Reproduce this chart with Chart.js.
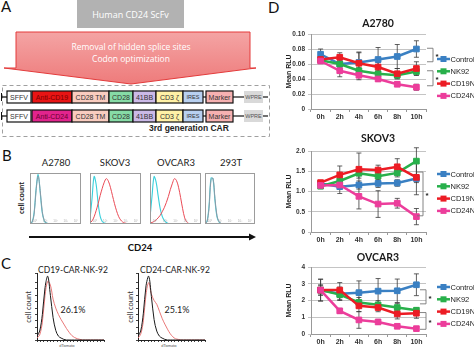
<!DOCTYPE html>
<html><head><meta charset="utf-8">
<script src="https://cdn.jsdelivr.net/npm/chart.js@4.4.1/dist/chart.umd.min.js"></script>
<style>
html,body{margin:0;padding:0;background:#fff;width:474px;height:361px;overflow:hidden;position:relative;font-family:'Liberation Sans',Arial,sans-serif}
canvas{position:absolute}
svg{position:absolute;left:0;top:0}
</style></head><body>
<svg width="474" height="361" xmlns="http://www.w3.org/2000/svg">
  <defs><linearGradient id="g1" x1="0" y1="0" x2="0" y2="1"><stop offset="0" stop-color="#f4a4a4"/><stop offset="1" stop-color="#ee7b7b"/></linearGradient></defs>
  <text x="1" y="12" font-family="Lato" font-size="15" fill="#111">A</text>
  <text x="2" y="161" font-family="Lato" font-size="15" fill="#111">B</text>
  <text x="1" y="269" font-family="Lato" font-size="15" fill="#111">C</text>
  <text x="268" y="13" font-family="Lato" font-size="15" fill="#111">D</text>
  <rect x="77" y="0" width="107" height="28" fill="#b2b2b2"/>
  <text x="130.5" y="17.5" text-anchor="middle" fill="#fff" font-family="Open Sans" font-size="9">Human CD24 ScFv</text>
  <polygon points="16,32 250,32 250,68 256,68 131,84 4,68 16,68" fill="url(#g1)" stroke="#e43b3b" stroke-width="1"/>
  <text x="131" y="50" text-anchor="middle" fill="#fff" font-family="Open Sans" font-size="8.5">Removal of hidden splice sites</text>
  <text x="131" y="62" text-anchor="middle" fill="#fff" font-family="Open Sans" font-size="8.5">Codon optimization</text>
  <rect x="2.5" y="85.5" width="267" height="51" fill="none" stroke="#a0a0a0" stroke-dasharray="4 3"/>
  <g font-family="Liberation Sans" font-size="7" text-anchor="middle" fill="#333">
    <line x1="1" y1="97" x2="7" y2="97" stroke="#111" stroke-width="1.3"/><line x1="1.5" y1="93" x2="1.5" y2="101" stroke="#111" stroke-width="1"/>
    <rect x="7" y="91" width="24" height="12" fill="#fff" stroke="#111" stroke-width="1.2"/><text x="19" y="99.5">SFFV</text>
    <rect x="32" y="91" width="40" height="12" fill="#e81414" stroke="#111" stroke-width="1.2"/><text x="52" y="99.5" fill="#7a0000">Anti-CD19</text>
    <rect x="72" y="91" width="37" height="12" fill="#f9ccbf" stroke="#111" stroke-width="1.2"/><text x="90.5" y="99.5">CD28 TM</text>
    <rect x="109" y="91" width="24" height="12" fill="#86dba6" stroke="#111" stroke-width="1.2"/><text x="121" y="99.5">CD28</text>
    <rect x="133" y="91" width="23" height="12" fill="#cbb9e7" stroke="#111" stroke-width="1.2"/><text x="144.5" y="99.5">41BB</text>
    <rect x="156" y="91" width="27" height="12" fill="#fff1a6" stroke="#111" stroke-width="1.2"/><text x="169.5" y="99.5">CD3 ζ</text>
    <rect x="183" y="91" width="20" height="12" fill="#b8d0f0" stroke="#111" stroke-width="1.2"/><text x="193" y="99" font-size="5.5">IRES</text>
    <line x1="203" y1="97" x2="206" y2="97" stroke="#111" stroke-width="1.2"/>
    <rect x="206" y="91" width="27" height="12" fill="#f6b1b1" stroke="#111" stroke-width="1.2"/><text x="219.5" y="99.5">Marker</text>
    <line x1="233" y1="97" x2="244" y2="97" stroke="#111" stroke-width="1.2"/>
    <rect x="244" y="91" width="19" height="12" fill="#d9d9d9"/><text x="253.5" y="99" font-size="5.5" fill="#555">WPRE</text>
    <line x1="263" y1="97" x2="268" y2="97" stroke="#111" stroke-width="1.2"/>
  </g>
  <g font-family="Liberation Sans" font-size="7" text-anchor="middle" fill="#333">
    <line x1="1" y1="116" x2="7" y2="116" stroke="#111" stroke-width="1.3"/><line x1="1.5" y1="112" x2="1.5" y2="120" stroke="#111" stroke-width="1"/>
    <rect x="7" y="110" width="24" height="12" fill="#fff" stroke="#111" stroke-width="1.2"/><text x="19" y="118.5">SFFV</text>
    <rect x="32" y="110" width="40" height="12" fill="#e2248d" stroke="#111" stroke-width="1.2"/><text x="52" y="118.5" fill="#6a0030">Anti-CD24</text>
    <rect x="72" y="110" width="37" height="12" fill="#f9ccbf" stroke="#111" stroke-width="1.2"/><text x="90.5" y="118.5">CD28 TM</text>
    <rect x="109" y="110" width="24" height="12" fill="#86dba6" stroke="#111" stroke-width="1.2"/><text x="121" y="118.5">CD28</text>
    <rect x="133" y="110" width="23" height="12" fill="#cbb9e7" stroke="#111" stroke-width="1.2"/><text x="144.5" y="118.5">41BB</text>
    <rect x="156" y="110" width="27" height="12" fill="#fff1a6" stroke="#111" stroke-width="1.2"/><text x="169.5" y="118.5">CD3 ζ</text>
    <rect x="183" y="110" width="20" height="12" fill="#b8d0f0" stroke="#111" stroke-width="1.2"/><text x="193" y="118" font-size="5.5">IRES</text>
    <line x1="203" y1="116" x2="206" y2="116" stroke="#111" stroke-width="1.2"/>
    <rect x="206" y="110" width="27" height="12" fill="#f6b1b1" stroke="#111" stroke-width="1.2"/><text x="219.5" y="118.5">Marker</text>
    <line x1="233" y1="116" x2="244" y2="116" stroke="#111" stroke-width="1.2"/>
    <rect x="244" y="110" width="19" height="12" fill="#d9d9d9"/><text x="253.5" y="118" font-size="5.5" fill="#555">WPRE</text>
    <line x1="263" y1="116" x2="268" y2="116" stroke="#111" stroke-width="1.2"/>
  </g>
  <text x="189" y="131" text-anchor="middle" font-family="Liberation Sans" font-weight="bold" font-size="8.5" fill="#222">3rd generation CAR</text>
  <g font-family="Lato" font-size="9.5" fill="#222" text-anchor="middle">
    <text x="56" y="166">A2780</text><text x="115" y="166">SKOV3</text><text x="176" y="166">OVCAR3</text><text x="231" y="166">293T</text>
  </g>
  <text transform="translate(23.5,198) rotate(-90)" text-anchor="middle" font-family="Lato" font-weight="bold" font-size="7.5" fill="#222">cell count</text>
  <line x1="29" y1="237" x2="250" y2="237" stroke="#111" stroke-width="2"/>
  <polygon points="249,233.5 256,237 249,240.5" fill="#111"/>
  <text x="140" y="251" text-anchor="middle" font-family="Lato" font-weight="bold" font-size="9.5" fill="#111">CD24</text>
  <g font-family="Lato" font-size="8.5" fill="#222">
    <text x="38" y="273">CD19-CAR-NK-92</text><text x="140" y="273">CD24-CAR-NK-92</text>
  </g>
  <g font-family="Lato" font-size="9" fill="#222" text-anchor="middle">
    <text x="73" y="313">26.1%</text><text x="177" y="313">25.1%</text>
  </g>
  <text transform="translate(30.5,307) rotate(-90)" text-anchor="middle" font-family="Lato" font-size="7.5" fill="#333">cell count</text>
  <text transform="translate(132.5,307) rotate(-90)" text-anchor="middle" font-family="Lato" font-size="7.5" fill="#333">cell count</text>
  <text x="67" y="347" text-anchor="middle" font-family="Lato" font-size="4" fill="#555">dTomato</text>
  <text x="169" y="347" text-anchor="middle" font-family="Lato" font-size="4" fill="#555">dTomato</text>
</svg>

<canvas id="bA" width="53" height="53" style="left:29px;top:172px"></canvas>
<canvas id="bS" width="53" height="53" style="left:89px;top:172px"></canvas>
<canvas id="bO" width="53" height="53" style="left:149px;top:172px"></canvas>
<canvas id="bT" width="52" height="53" style="left:204px;top:172px"></canvas>
<canvas id="c1" width="72" height="74" style="left:34px;top:270px"></canvas>
<canvas id="c2" width="72" height="74" style="left:135px;top:270px"></canvas>
<canvas id="dA" width="194" height="107" style="left:280px;top:16px"></canvas>
<canvas id="dS" width="194" height="118" style="left:280px;top:128px"></canvas>
<canvas id="dO" width="194" height="102" style="left:280px;top:246px"></canvas>

<script>
// ---------- Panel D data ----------
const hours = ['0h','2h','4h','6h','8h','10h'];
const seriesNames = ['Control','NK92','CD19NK','CD24NK'];
const seriesColors = ['#3a80c3','#28b04b','#ec1c24','#ec3d9b'];

const a2780Control = [0.073,0.060,0.062,0.066,0.070,0.080];
const a2780NK92    = [0.065,0.060,0.051,0.047,0.045,0.050];
const a2780CD19NK  = [0.066,0.069,0.061,0.056,0.047,0.054];
const a2780CD24NK  = [0.064,0.051,0.045,0.040,0.033,0.029];
const a2780ControlErr = [0.007,0.004,0.014,0.016,0.016,0.011];
const a2780NK92Err    = [0.003,0.004,0.004,0.004,0.004,0.005];
const a2780CD19NKErr  = [0.003,0.006,0.014,0.006,0.007,0.009];
const a2780CD24NKErr  = [0.003,0.008,0.006,0.003,0.003,0.004];
const a2780Ticks = [0,0.02,0.04,0.06,0.08,0.1];

const skov3Control = [1.20,1.12,1.16,1.20,1.21,1.32];
const skov3NK92    = [1.13,1.26,1.45,1.38,1.46,1.75];
const skov3CD19NK  = [1.22,1.41,1.55,1.53,1.61,1.35];
const skov3CD24NK  = [1.15,1.16,0.88,0.69,0.71,0.38];
const skov3ControlErr = [0.06,0.17,0.10,0.10,0.08,0.10];
const skov3NK92Err    = [0.05,0.10,0.12,0.10,0.10,0.33];
const skov3CD19NKErr  = [0.05,0.22,0.40,0.12,0.20,0.43];
const skov3CD24NKErr  = [0.05,0.10,0.31,0.33,0.12,0.20];
const skov3Ticks = [0,0.5,1,1.5,2];

const ovcar3Control = [2.62,2.40,2.47,2.56,2.58,2.94];
const ovcar3NK92    = [2.62,2.35,1.88,1.74,1.58,1.42];
const ovcar3CD19NK  = [2.62,2.62,1.68,1.58,1.20,1.24];
const ovcar3CD24NK  = [2.62,1.38,0.84,0.72,0.46,0.32];
const ovcar3ControlErr = [0.65,0.40,0.70,0.75,0.70,0.65];
const ovcar3NK92Err    = [0.30,0.30,0.30,0.25,0.25,0.15];
const ovcar3CD19NKErr  = [0.30,0.45,0.35,0.25,0.30,0.30];
const ovcar3CD24NKErr  = [0.65,0.15,0.50,0.15,0.10,0.10];
const ovcar3Ticks = [0,1,2,3,4];

// significance brackets [from, to] in data units
const a2780Brackets = [[0.081,0.063],[0.051,0.031]];
const skov3Brackets = [[1.48,0.40]];
const ovcar3Brackets = [[2.64,1.80],[1.28,0.28]];

// ---------- Panel B / C histogram data ----------
const histX = [0,4,8,12,16,20,24,28,32,36,40,44,48,52,56,60,64,68,72,76,80,84,88,92,96,100];
const bA2780Iso  = [1,4,22,70,97,62,22,6,2,1,1,1,1,1,1,1,1,1,1,1,1,1,1,1,1,1];
const bA2780CD24 = [1,3,18,66,94,66,25,7,2,1,1,1,1,1,1,1,1,1,1,1,1,1,1,1,1,1];
const bSkov3Iso  = [10,50,93,78,40,15,5,2,1,0,0,0,0,0,0,0,0,0,0,0,0,0,0,0,0,0];
const bSkov3CD24 = [2,6,14,26,40,56,70,82,89,84,72,56,40,26,15,8,4,2,1,0,0,0,0,0,0,0];
const bOvcar3Iso  = [12,55,93,82,55,30,15,7,3,1,0,0,0,0,0,0,0,0,0,0,0,0,0,0,0,0];
const bOvcar3CD24 = [2,3,5,8,12,17,24,32,42,54,68,80,89,85,72,52,30,12,4,1,0,0,0,0,0,0];
const b293tIso  = [1,5,35,90,88,45,14,4,1,1,1,1,1,1,1,1,1,1,1,1,1,1,1,1,1,1];
const b293tCD24 = [1,4,30,86,90,50,16,5,1,1,1,1,1,1,1,1,1,1,1,1,1,1,1,1,1,1];

const cCD19Neg = [6,14,40,82,100,70,35,15,6,3,1,0,0,0,0,0,0,0,0,0,0,0,0,0,0,0];
const cCD19Pos = [3,8,28,70,92,86,64,50,40,32,25,18,12,7,4,2,1,0,0,0,0,0,0,0,0,0];
const cCD24Neg = [6,14,42,85,100,68,32,14,6,3,1,0,0,0,0,0,0,0,0,0,0,0,0,0,0,0];
const cCD24Pos = [3,9,30,72,90,72,62,56,45,34,25,17,10,5,2,1,0,0,0,0,0,0,0,0,0,0];

// ---------- helpers ----------
const pts = arr => arr.map((v,i)=>({x:histX[i], y:v}));

const errPlugin = {
  id:'errbars',
  beforeDatasetsDraw(chart){
    const ctx = chart.ctx, ys = chart.scales.y;
    ctx.save(); ctx.strokeStyle='#3a3a3a'; ctx.lineWidth=0.8;
    chart.data.datasets.forEach((ds,i)=>{
      const meta = chart.getDatasetMeta(i);
      (ds.errors||[]).forEach((e,j)=>{
        if(!e) return;
        const x = meta.data[j].x, v = ds.data[j];
        const y1 = ys.getPixelForValue(v+e), y2 = ys.getPixelForValue(v-e);
        ctx.beginPath();
        ctx.moveTo(x,y1); ctx.lineTo(x,y2);
        ctx.moveTo(x-2.5,y1); ctx.lineTo(x+2.5,y1);
        ctx.moveTo(x-2.5,y2); ctx.lineTo(x+2.5,y2);
        ctx.stroke();
      });
    });
    ctx.restore();
  }
};

function makeDeco(cfg){
  return {
    id:'deco_'+cfg.title,
    afterDraw(chart){
      const ctx = chart.ctx, ca = chart.chartArea, ys = chart.scales.y;
      ctx.save();
      ctx.fillStyle='#1a1a1a'; ctx.font='bold 10.5px Lato'; ctx.textAlign='center'; ctx.textBaseline='middle';
      ctx.fillText(cfg.title, chart.width/2 + 1, cfg.titleY);
      ctx.save(); ctx.translate(9, (ca.top+ca.bottom)/2); ctx.rotate(-Math.PI/2);
      ctx.font='bold 7px "Liberation Sans"'; ctx.fillStyle='#222'; ctx.fillText('Mean RLU',0,0); ctx.restore();
      ctx.lineWidth=0.9;
      cfg.brackets.forEach(b=>{
        const y1 = ys.getPixelForValue(b[0]), y2 = ys.getPixelForValue(b[1]);
        const x = ca.right + cfg.bx;
        ctx.strokeStyle='#777';
        ctx.beginPath(); ctx.moveTo(x-6,y1); ctx.lineTo(x,y1); ctx.lineTo(x,y2); ctx.lineTo(x-6,y2); ctx.stroke();
        ctx.fillStyle='#222'; ctx.font='bold 8px "Liberation Sans"'; ctx.textAlign='center';
        ctx.fillText('*', x+4, (y1+y2)/2+2);
      });
      ctx.textAlign='left'; ctx.font='7.5px "Liberation Sans"';
      for(let i=0;i<seriesNames.length;i++){
        const y = cfg.legendY + i*12.3;
        const x0 = 157;
        ctx.strokeStyle = seriesColors[i]; ctx.lineWidth = 2.5;
        ctx.beginPath(); ctx.moveTo(x0,y); ctx.lineTo(x0+13,y); ctx.stroke();
        ctx.fillStyle = seriesColors[i]; ctx.fillRect(x0+3.5,y-3,6,6);
        ctx.fillStyle='#222'; ctx.fillText(seriesNames[i], x0+13.5, y+0.5);
      }
      ctx.restore();
    }
  };
}

function lineChart(id, vals, errs, ticks, cfg){
  const max = ticks[ticks.length-1];
  new Chart(document.getElementById(id), {
    type:'line',
    data:{labels:hours, datasets: vals.map((v,i)=>({
      label:seriesNames[i], data:v, errors:errs[i],
      borderColor:seriesColors[i], backgroundColor:seriesColors[i],
      borderWidth:2.5, pointStyle:'rect', pointRadius:4, pointBorderWidth:1,
      order: 3-i, tension:0
    }))},
    options:{
      responsive:false, animation:false, devicePixelRatio:1,
      layout:{padding:{left:0,top:cfg.padTop,right:48,bottom:0}},
      plugins:{legend:{display:false}, tooltip:{enabled:false}},
      scales:{
        x:{offset:true, afterFit:s=>{s.height=14;},
           grid:{offset:true, drawOnChartArea:false, tickLength:3, color:'#999'},
           border:{color:'#999'},
           ticks:{font:{size:7,weight:'bold',family:'Liberation Sans'}, color:'#333', padding:1}},
        y:{min:0, max:max, afterFit:s=>{s.width=31;},
           afterBuildTicks:s=>{s.ticks = ticks.map(v=>({value:v}));},
           grid:{color:'#c4c4c4', tickLength:3, lineWidth:1},
           border:{color:'#999'},
           ticks:{font:{size:6.5,weight:'bold',family:'Liberation Sans'}, color:'#333', padding:3}}
      }
    },
    plugins:[errPlugin, makeDeco(cfg)]
  });
}

// legendY / titleY are canvas-relative pixel positions
lineChart('dA', [a2780Control,a2780NK92,a2780CD19NK,a2780CD24NK],
  [a2780ControlErr,a2780NK92Err,a2780CD19NKErr,a2780CD24NKErr], a2780Ticks,
  {title:'A2780', titleY:8, padTop:18, legendY:43, brackets:a2780Brackets, bx:7});
lineChart('dS', [skov3Control,skov3NK92,skov3CD19NK,skov3CD24NK],
  [skov3ControlErr,skov3NK92Err,skov3CD19NKErr,skov3CD24NKErr], skov3Ticks,
  {title:'SKOV3', titleY:11, padTop:23, legendY:46, brackets:skov3Brackets, bx:-3});
lineChart('dO', [ovcar3Control,ovcar3NK92,ovcar3CD19NK,ovcar3CD24NK],
  [ovcar3ControlErr,ovcar3NK92Err,ovcar3CD19NKErr,ovcar3CD24NKErr], ovcar3Ticks,
  {title:'OVCAR3', titleY:12, padTop:21, legendY:41, brackets:ovcar3Brackets, bx:0});

// ---------- Panel B ----------
const boxPlugin = {
  id:'box',
  afterDraw(chart){
    const ctx = chart.ctx, ca = chart.chartArea;
    ctx.save();
    ctx.strokeStyle='#9c9c9c'; ctx.lineWidth=1;
    ctx.strokeRect(ca.left+0.5, ca.top+0.5, ca.right-ca.left-1, ca.bottom-ca.top-1);
    ctx.fillStyle='#b0b0b0'; ctx.font='3px "Liberation Sans"'; ctx.textAlign='center';
    ['10⁰','10¹','10²','10³','10⁴'].forEach((t,i)=>ctx.fillText(t, ca.left+5+i*(ca.right-ca.left-10)/4, ca.bottom-2));
    ctx.restore();
  }
};
function histBox(id, iso, pos, isoColor, posColor){
  new Chart(document.getElementById(id), {
    type:'line',
    data:{datasets:[
      {data:pts(pos), borderColor:posColor, borderWidth:1, pointRadius:0, tension:0.35},
      {data:pts(iso), borderColor:isoColor, borderWidth:1.1, pointRadius:0, tension:0.35}
    ]},
    options:{responsive:false, animation:false, devicePixelRatio:1,
      layout:{padding:{left:1,right:1,top:1,bottom:1}},
      plugins:{legend:{display:false}, tooltip:{enabled:false}},
      scales:{x:{type:'linear',min:0,max:100,display:false}, y:{min:0,max:100,display:false}}},
    plugins:[boxPlugin]
  });
}
histBox('bA', bA2780Iso, bA2780CD24, '#49cdd6', '#8a99a6');
histBox('bS', bSkov3Iso, bSkov3CD24, '#38d0dc', '#ea4a55');
histBox('bO', bOvcar3Iso, bOvcar3CD24, '#38d0dc', '#ea4a55');
histBox('bT', b293tIso, b293tCD24, '#49cdd6', '#8a99a6');

// ---------- Panel C ----------
function histC(id, neg, pos){
  new Chart(document.getElementById(id), {
    type:'line',
    data:{datasets:[
      {data:pts(neg), borderColor:'#1a1a1a', borderWidth:1, pointRadius:0, tension:0.35, order:0},
      {data:pts(pos), borderColor:'#e66a6a', borderWidth:0.9, pointRadius:0, tension:0.35, order:1}
    ]},
    options:{responsive:false, animation:false, devicePixelRatio:1,
      layout:{padding:{left:0,right:2,top:3,bottom:0}},
      plugins:{legend:{display:false}, tooltip:{enabled:false}},
      scales:{
        x:{type:'linear',min:0,max:100, afterFit:s=>{s.height=4;},
           grid:{drawOnChartArea:false, tickLength:2, color:'#444'}, border:{color:'#222'},
           ticks:{display:false, stepSize:5}},
        y:{min:0,max:105, afterFit:s=>{s.width=3;},
           grid:{drawOnChartArea:false, tickLength:2, color:'#444'}, border:{color:'#222'},
           ticks:{display:false, stepSize:10}}
      }},
  });
}
histC('c1', cCD19Neg, cCD19Pos);
histC('c2', cCD24Neg, cCD24Pos);
</script>
</body></html>
